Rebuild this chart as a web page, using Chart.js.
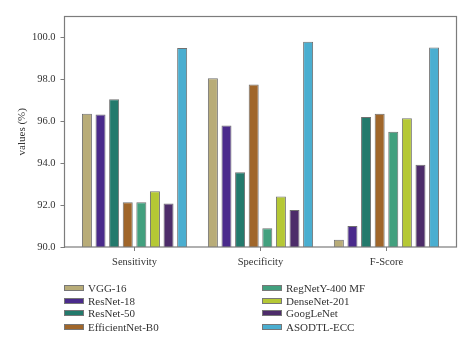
<!DOCTYPE html>
<html>
<head>
<meta charset="utf-8">
<script src="https://cdn.jsdelivr.net/npm/chart.js@4/dist/chart.umd.min.js"></script>
<style>
  html, body { margin: 0; padding: 0; background: #fff; }
  #wrap { position: relative; width: 474px; height: 349px; }
  #legend { position: absolute; left: 0; top: 0; width: 474px; height: 349px; pointer-events: none;
            font-family: 'Liberation Serif', 'DejaVu Serif', serif; font-size: 11px; color: #333; }
  .item { position: absolute; display: flex; align-items: center; white-space: nowrap; line-height: 12px; }
  .sw { width: 18px; height: 4px; border: 1px solid #777; margin-right: 4px; }
</style>
</head>
<body>
<div id="wrap">
  <canvas id="c" width="474" height="349"></canvas>
  <div id="legend"></div>
</div>
<script>
// Metric groups along the x axis
const metrics = ['Sensitivity', 'Specificity', 'F-Score'];

// Model names, in legend order
const models = ['VGG-16', 'ResNet-18', 'ResNet-50', 'EfficientNet-B0',
                'RegNetY-400 MF', 'DenseNet-201', 'GoogLeNet', 'ASODTL-ECC'];

// Scores (%) per model: Sensitivity, Specificity, F-Score
const vgg16        = [96.36, 98.05, 90.35];
const resnet18     = [96.32, 95.80, 91.00];
const resnet50     = [97.05, 93.57, 96.20];
const efficientB0  = [92.13, 97.75, 96.36];
const regnetY400   = [92.13, 90.89, 95.50];
const densenet201  = [92.66, 92.41, 96.15];
const googlenet    = [92.07, 91.77, 93.92];
const asodtlEcc    = [99.50, 99.79, 99.52];

// Y axis tick values
const yTicks = [90, 92, 94, 96, 98, 100];

const seriesValues = [vgg16, resnet18, resnet50, efficientB0, regnetY400, densenet201, googlenet, asodtlEcc];
const colors = ['#b8ac78', '#4a2a8c', '#237a6c', '#a0662a', '#42a07e', '#b5c835', '#4d2c6a', '#4aaed0'];

const textColor = '#333';
const frameColor = '#7c7c7c';
const serif = "'Liberation Serif', 'DejaVu Serif', serif";

// Box drawn around the plotting area
const framePlugin = {
  id: 'frame',
  afterDatasetsDraw(chart) {
    const { ctx, chartArea: a } = chart;
    ctx.save();
    ctx.strokeStyle = frameColor;
    ctx.lineWidth = 1.2;
    ctx.strokeRect(a.left, a.top, a.right - a.left, a.bottom - a.top);
    ctx.restore();
  }
};

const chart = new Chart(document.getElementById('c'), {
  type: 'bar',
  data: {
    labels: metrics,
    datasets: models.map((m, i) => ({
      label: m,
      data: seriesValues[i],
      backgroundColor: colors[i],
      borderColor: '#707070',
      borderWidth: 1,
      categoryPercentage: 0.864,
      barPercentage: 0.735
    }))
  },
  options: {
    responsive: false,
    animation: false,
    layout: { padding: { left: 0, top: 16.5, right: 17.5, bottom: 72 } },
    plugins: { legend: { display: false }, tooltip: { enabled: false } },
    scales: {
      x: {
        offset: false,
        grid: { offset: false, drawOnChartArea: false, drawTicks: true, tickLength: 4, color: frameColor },
        border: { display: false },
        ticks: { color: textColor, font: { family: serif, size: 10.5 }, padding: 5, maxRotation: 0 },
        afterBuildTicks(scale) {
          // widen the value range so groups sit inset from the frame edges
          scale.ticks = metrics.map((_, i) => ({ value: i }));
          scale._startValue = -0.556;
          scale._valueRange = metrics.length - 1 + 2 * 0.556;
        },
        afterFit(scale) { scale.height = 30; }
      },
      y: {
        min: 90,
        max: 101,
        grid: { drawOnChartArea: false, drawTicks: true, tickLength: 4, color: frameColor },
        border: { display: false },
        afterBuildTicks(scale) { scale.ticks = yTicks.map(v => ({ value: v })); },
        ticks: {
          color: textColor, font: { family: serif, size: 10.5 }, padding: 5,
          callback: v => Number(v).toFixed(1)
        },
        title: { display: true, text: 'values (%)', color: textColor,
                 font: { family: serif, size: 11 }, padding: { top: 16, bottom: 0 } },
        afterFit(scale) { scale.width = 64.5; }
      }
    }
  },
  plugins: [framePlugin]
});

// Two-column legend below the plot
const legend = document.getElementById('legend');
const colX = [64, 262];
const rowY = [288, 300.5, 313, 327];
models.forEach((m, i) => {
  const col = Math.floor(i / 4), row = i % 4;
  const el = document.createElement('div');
  el.className = 'item';
  el.style.left = colX[col] + 'px';
  el.style.top = (rowY[row] - 6) + 'px';
  const sw = document.createElement('span');
  sw.className = 'sw';
  sw.style.background = colors[i];
  const tx = document.createElement('span');
  tx.textContent = m;
  el.appendChild(sw);
  el.appendChild(tx);
  legend.appendChild(el);
});
</script>
</body>
</html>
